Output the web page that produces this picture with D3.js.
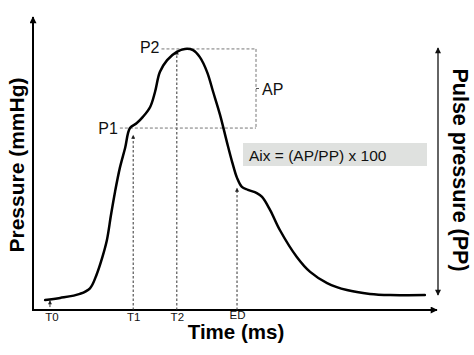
<!DOCTYPE html>
<html>
<head>
<meta charset="utf-8">
<script src="https://cdn.jsdelivr.net/npm/d3@7"></script>
<style>
  html, body { margin: 0; padding: 0; background: #fff; }
  svg { display: block; font-family: "Liberation Sans", Arial, sans-serif; }
</style>
</head>
<body>
<svg id="chart" width="474" height="355"></svg>
<script>
// ---- data ----
const timeMs = [30, 67, 116, 141, 158, 171, 183, 193, 203, 215, 228, 240, 257, 272, 290, 302, 314, 332, 356, 376, 396, 413, 431, 446, 463, 480, 493, 505, 517, 532, 554, 567, 587, 611, 653, 686, 728, 777, 834, 884, 970];
const pressure = [3.4, 4.1, 5.5, 7.4, 12.3, 17.7, 23.9, 32.4, 40.3, 48.5, 55.3, 62.1, 63.8, 65.9, 69.3, 74.4, 81.2, 85.3, 88.1, 89.1, 88.7, 86.3, 81.2, 74.4, 66.6, 57.3, 50.5, 45.1, 42.0, 41.0, 39.9, 38.6, 34.1, 27.3, 18.1, 13.0, 9.2, 6.8, 5.5, 5.1, 5.1];

const eventLabels = ["T0", "T1", "T2", "ED"];
const eventTimes = [42, 248, 356, 505];
const eventArrowFrom = [1.0, 0, 0, 0];
const eventArrowTo = [3.2, 59.7, 88.4, 41.6];

const peakLabels = ["P1", "P2"];
const peakTimes = [228, 320];
const peakPressures = [62.1, 89.1];
const boxRightTime = 552;

const formulaText = "Aix = (AP/PP) x 100";
const apLabel = "AP";
const xTitle = "Time (ms)";
const yTitle = "Pressure (mmHg)";
const y2Title = "Pulse pressure (PP)";

// ---- scales ----
const svg = d3.select("#chart");
const x = d3.scaleLinear().domain([0, 1000]).range([33, 437]);
const y = d3.scaleLinear().domain([0, 100]).range([310, 17]);
const ppY = d3.scaleLinear().domain([5.1, 89.1]).range([y(5.1), y(89.1)]);

// ---- markers ----
const defs = svg.append("defs");
function marker(id, w, h, color) {
  defs.append("marker")
    .attr("id", id)
    .attr("viewBox", "0 0 10 10")
    .attr("refX", 9).attr("refY", 5)
    .attr("markerWidth", w).attr("markerHeight", h)
    .attr("markerUnits", "userSpaceOnUse")
    .attr("orient", "auto-start-reverse")
    .append("path").attr("d", "M0,0 L10,5 L0,10 Z").attr("fill", color);
}
marker("axArrow", 8, 7, "#000");
marker("ppArrow", 7, 6, "#111");
marker("smallArrow", 5, 4, "#222");

// ---- axes ----
svg.append("line")
  .attr("x1", x(0)).attr("y1", y(0)).attr("x2", x(0)).attr("y2", y(100))
  .attr("stroke", "#000").attr("stroke-width", 2).attr("marker-end", "url(#axArrow)");
svg.append("line")
  .attr("x1", x(0) - 1).attr("y1", y(0)).attr("x2", x(1000)).attr("y2", y(0))
  .attr("stroke", "#000").attr("stroke-width", 2).attr("marker-end", "url(#axArrow)");

// tick labels via d3 axis
const xAxis = d3.axisBottom(x)
  .tickValues(eventTimes)
  .tickFormat((d, i) => eventLabels[i])
  .tickSize(0).tickPadding(3);
const gx = svg.append("g").attr("transform", `translate(0,${y(0)})`).call(xAxis);
gx.select(".domain").remove();
gx.selectAll("text")
  .attr("font-family", "Liberation Sans, Arial, sans-serif")
  .attr("font-size", 11.5).attr("fill", "#111");
gx.selectAll(".tick").filter((d, i) => i === 0).attr("transform", `translate(${x(eventTimes[0]) + 2},0)`);
gx.selectAll(".tick").filter((d, i) => i === 3).select("text").attr("dy", "0.55em");

// ---- event arrows (dashed) ----
eventTimes.forEach((t, i) => {
  svg.append("line")
    .attr("x1", x(t)).attr("x2", x(t))
    .attr("y1", i === 0 ? y(eventArrowFrom[i]) : y(0))
    .attr("y2", y(eventArrowTo[i]))
    .attr("stroke", "#333").attr("stroke-width", 1)
    .attr("stroke-dasharray", i === 0 ? null : "2.5,2")
    .attr("marker-end", "url(#smallArrow)");
});

// ---- P1/P2 guide box ----
const guide = svg.append("g").attr("stroke", "#777").attr("stroke-width", 1).attr("stroke-dasharray", "3,2").attr("fill", "none");
guide.append("line").attr("x1", x(215)).attr("x2", x(boxRightTime)).attr("y1", y(peakPressures[0])).attr("y2", y(peakPressures[0]));
guide.append("line").attr("x1", x(318)).attr("x2", x(boxRightTime)).attr("y1", y(peakPressures[1])).attr("y2", y(peakPressures[1]));
guide.append("line").attr("x1", x(boxRightTime)).attr("x2", x(boxRightTime)).attr("y1", y(peakPressures[1])).attr("y2", y(peakPressures[0]));
svg.append("line")
  .attr("x1", x(boxRightTime)).attr("x2", x(boxRightTime) + 3)
  .attr("y1", (y(peakPressures[0]) + y(peakPressures[1])) / 2)
  .attr("y2", (y(peakPressures[0]) + y(peakPressures[1])) / 2)
  .attr("stroke", "#555").attr("stroke-width", 1);
svg.append("text")
  .attr("x", x(boxRightTime) + 6)
  .attr("y", (y(peakPressures[0]) + y(peakPressures[1])) / 2 + 7)
  .attr("font-size", 16).attr("fill", "#111").text(apLabel);

// peak labels
svg.append("text").attr("x", x(215) - 2).attr("y", y(peakPressures[0]) + 5.5)
  .attr("text-anchor", "end").attr("font-size", 16).attr("fill", "#111").text(peakLabels[0]);
svg.append("text").attr("x", x(318) - 2).attr("y", y(peakPressures[1]) + 4.5)
  .attr("text-anchor", "end").attr("font-size", 16).attr("fill", "#111").text(peakLabels[1]);

// ---- curve ----
const pts = timeMs.map((t, i) => [t, pressure[i]]);
svg.append("path")
  .datum(pts)
  .attr("d", d3.line().x(d => x(d[0])).y(d => y(d[1])).curve(d3.curveCatmullRom.alpha(0.5)))
  .attr("fill", "none").attr("stroke", "#000").attr("stroke-width", 2.5)
  .attr("stroke-linejoin", "round").attr("stroke-linecap", "round");

// ---- formula box ----
svg.append("rect").attr("x", 243).attr("y", 143).attr("width", 184).attr("height", 23).attr("fill", "#dfe1df");
svg.append("text").attr("x", 249).attr("y", 160.5).attr("font-size", 15.5).attr("fill", "#111").text(formulaText);

// ---- pulse pressure axis ----
svg.append("line")
  .attr("x1", 438).attr("x2", 438).attr("y1", ppY(5.1)).attr("y2", y(89.1) - 1)
  .attr("stroke", "#111").attr("stroke-width", 1.3)
  .attr("marker-start", "url(#ppArrow)").attr("marker-end", "url(#ppArrow)");

// ---- titles ----
svg.append("text").attr("x", 236).attr("y", 339).attr("text-anchor", "middle")
  .attr("font-size", 20.5).attr("font-weight", "bold").attr("fill", "#000").text(xTitle);
svg.append("text").attr("transform", "translate(17,165) rotate(-90)").attr("dy", "0.35em")
  .attr("text-anchor", "middle").attr("font-size", 21).attr("font-weight", "bold").attr("fill", "#000").text(yTitle);
svg.append("text").attr("transform", "translate(461,170) rotate(90)").attr("dy", "0.35em")
  .attr("text-anchor", "middle").attr("font-size", 21.5).attr("font-weight", "bold").attr("fill", "#000").text(y2Title);
</script>
</body>
</html>
